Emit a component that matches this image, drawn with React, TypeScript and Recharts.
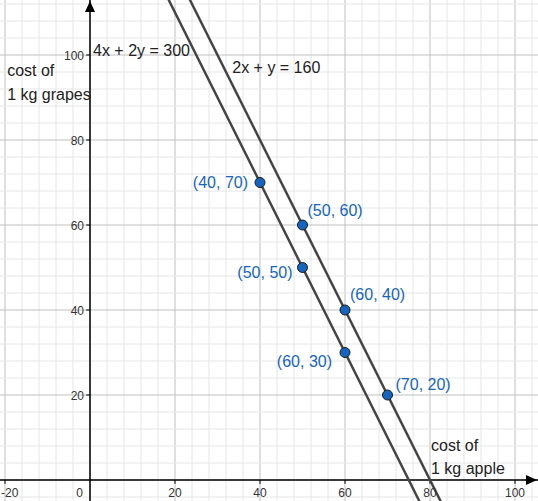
import { ComposedChart, Scatter, ReferenceLine, ReferenceDot, XAxis, YAxis, LabelList } from 'recharts';

// equations a*x + b*y = c
const lineEqs = [
  { a: 4, b: 2, c: 300, name: '4x + 2y = 300' },
  { a: 2, b: 1, c: 160, name: '2x + y = 160' },
];

const pointsX = [40, 50, 50, 60, 60, 70];
const pointsY = [70, 60, 50, 40, 30, 20];

const xTicks = [-20, 20, 40, 60, 80, 100];
const yTicks = [20, 40, 60, 80, 100];

const W = 538;
const H = 501;
const PX = 4.25; // pixels per unit
const ORIGIN = { x: 90, y: 480 };
const xDomain = [-ORIGIN.x / PX, (W - ORIGIN.x) / PX];
const yDomain = [-(H - ORIGIN.y) / PX, ORIGIN.y / PX];

const minorX: number[] = [];
for (let v = -20; v <= 104; v += 4) minorX.push(v);
const minorY: number[] = [];
for (let v = -4; v <= 112; v += 4) minorY.push(v);

const points = pointsX.map((x, i) => ({ x, y: pointsY[i], label: `(${x}, ${pointsY[i]})` }));

// label placement: [dx, dy, anchor]
const labelPlace: [number, number, string][] = [
  [-12, 5, 'end'],
  [5, -9, 'start'],
  [-10, 10, 'end'],
  [5, -10, 'start'],
  [-13, 14, 'end'],
  [8, -5, 'start'],
];

const FONT = '"Liberation Sans", Arial, sans-serif';

function textAt(key: string, x: number, y: number, value: string, opts: any = {}) {
  return (
    <ReferenceDot
      key={key}
      x={x}
      y={y}
      r={0}
      ifOverflow="visible"
      shape={(p: any) => (
        <text
          x={p.cx + (opts.dx || 0)}
          y={p.cy + (opts.dy || 0)}
          textAnchor={opts.anchor || 'start'}
          fontSize={opts.size || 16}
          fill={opts.color || '#222'}
          fontFamily={FONT}
        >
          {value}
        </text>
      )}
    />
  );
}

export default function App() {
  return (
    <div style={{ position: 'absolute', left: 0, top: 0, background: '#fff' }}>
      <ComposedChart width={W} height={H} margin={{ top: 0, right: 0, bottom: 0, left: 0 }}>
        <XAxis type="number" dataKey="x" domain={xDomain} allowDataOverflow hide />
        <YAxis type="number" dataKey="y" domain={yDomain} allowDataOverflow hide />

        {minorX.map((v) => (
          <ReferenceLine key={'mx' + v} x={v} stroke={v % 20 === 0 ? '#c0c0c0' : '#e6e6e6'} strokeWidth={1} />
        ))}
        {minorY.map((v) => (
          <ReferenceLine key={'my' + v} y={v} stroke={v % 20 === 0 ? '#c0c0c0' : '#e6e6e6'} strokeWidth={1} />
        ))}

        <ReferenceLine x={0} stroke="#000" strokeWidth={1.5} />
        <ReferenceLine y={0} stroke="#000" strokeWidth={1.5} />
        {xTicks.map((v) => (
          <ReferenceLine key={'tx' + v} segment={[{ x: v, y: 0 }, { x: v, y: -0.9 }]} stroke="#000" strokeWidth={1} ifOverflow="visible" />
        ))}
        {yTicks.map((v) => (
          <ReferenceLine key={'ty' + v} segment={[{ x: 0, y: v }, { x: -0.9, y: v }]} stroke="#000" strokeWidth={1} ifOverflow="visible" />
        ))}

        <ReferenceDot
          x={xDomain[1]}
          y={0}
          r={0}
          ifOverflow="visible"
          shape={(p: any) => (
            <polygon points={`${p.cx - 1},${p.cy} ${p.cx - 12},${p.cy - 5} ${p.cx - 12},${p.cy + 5}`} fill="#000" />
          )}
        />
        <ReferenceDot
          x={0}
          y={yDomain[1]}
          r={0}
          ifOverflow="visible"
          shape={(p: any) => (
            <polygon points={`${p.cx},${p.cy + 1} ${p.cx - 5},${p.cy + 12} ${p.cx + 5},${p.cy + 12}`} fill="#000" />
          )}
        />

        {xTicks.map((v) =>
          v === xTicks[0]
            ? textAt('lx' + v, v, 0, String(v), { dx: -4, dy: 17, anchor: 'start', size: 12, color: '#333' })
            : textAt('lx' + v, v, 0, String(v), { dx: 0, dy: 17, anchor: 'middle', size: 12, color: '#333' })
        )}
        {textAt('l0', 0, 0, '0', { dx: -7, dy: 17, anchor: 'end', size: 12, color: '#333' })}
        {yTicks.map((v) => textAt('ly' + v, 0, v, String(v), { dx: -6, dy: 4.5, anchor: 'end', size: 12, color: '#333' }))}

        {lineEqs.map((l, i) => (
          <ReferenceLine
            key={'eq' + i}
            segment={[
              { x: xDomain[0], y: (l.c - l.a * xDomain[0]) / l.b },
              { x: xDomain[1], y: (l.c - l.a * xDomain[1]) / l.b },
            ]}
            stroke="#444"
            strokeWidth={2.5}
            ifOverflow="hidden"
          />
        ))}

        {textAt('eq0', 0, 100, lineEqs[0].name, { dx: 3, dy: 0.5 })}
        {textAt('eq1', 33, 96, lineEqs[1].name, { dx: 2, dy: 1 })}

        {textAt('ya1', -19.5, 97, 'cost of', { dx: 0, dy: 8 })}
        {textAt('ya2', -19.5, 97, '1 kg grapes', { dx: 0, dy: 32 })}
        {textAt('xa1', 80, 8, 'cost of', { dx: 1, dy: 5 })}
        {textAt('xa2', 80, 8, '1 kg apple', { dx: 1, dy: 28 })}

        <Scatter
          data={points}
          isAnimationActive={false}
          shape={(p: any) => <circle cx={p.cx} cy={p.cy} r={5} fill="#1565c0" stroke="#1a1a1a" strokeWidth={1} />}
        >
          <LabelList
            dataKey="label"
            content={(p: any) => {
              const pl = labelPlace[p.index] || [8, -8, 'start'];
              return (
                <text
                  x={p.x + p.width / 2 + pl[0]}
                  y={p.y + p.height / 2 + pl[1]}
                  textAnchor={pl[2]}
                  fontSize={16}
                  fill="#1565c0"
                  fontFamily={FONT}
                >
                  {p.value}
                </text>
              );
            }}
          />
        </Scatter>
      </ComposedChart>
    </div>
  );
}
